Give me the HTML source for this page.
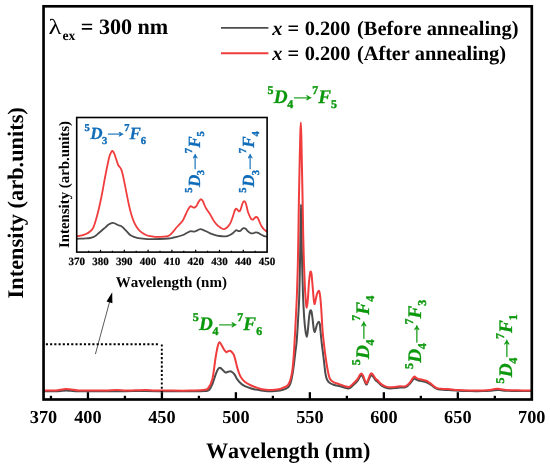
<!DOCTYPE html>
<html lang="en"><head><meta charset="utf-8"><title>PL emission spectra</title>
<style>html,body{margin:0;padding:0;background:#fff}svg{display:block;text-rendering:geometricPrecision}text{font-family:"Liberation Serif","DejaVu Serif",serif;font-weight:bold;fill:#000;font-kerning:none}.i{font-style:italic}.r{font-weight:normal;font-style:normal}.u{font-style:normal}.lb text{fill:inherit;stroke-width:0}.lb text.s{stroke-width:0.4px}.lb text.i{stroke-width:0.25px}.lb text.r{stroke-width:0.3px}</style></head><body>
<svg width="550" height="469" viewBox="0 0 550 469">
<rect width="550" height="469" fill="#fff"/>
<path d="M43.50 391.30 C45.42 391.28 51.92 391.28 55.00 391.20 C58.08 391.12 60.17 390.92 62.00 390.80 C63.83 390.68 64.50 390.50 66.00 390.50 C67.50 390.50 69.00 390.68 71.00 390.80 C73.00 390.92 74.83 391.12 78.00 391.20 C81.17 391.28 85.50 391.28 90.00 391.30 C94.50 391.32 99.17 391.32 105.00 391.30 C110.83 391.28 118.17 391.25 125.00 391.20 C131.83 391.15 138.50 390.98 146.00 391.00 C153.50 391.02 162.67 391.25 170.00 391.30 C177.33 391.35 184.17 391.35 190.00 391.30 C195.83 391.25 201.83 391.22 205.00 391.00 C208.17 390.78 207.77 391.17 209.00 390.00 C210.23 388.83 211.30 386.57 212.40 384.00 C213.50 381.43 214.70 377.02 215.60 374.60 C216.50 372.18 217.08 370.63 217.80 369.50 C218.52 368.37 219.20 367.83 219.90 367.80 C220.60 367.77 221.32 368.72 222.00 369.30 C222.68 369.88 223.37 370.75 224.00 371.30 C224.63 371.85 225.13 372.52 225.80 372.60 C226.47 372.68 227.25 372.03 228.00 371.80 C228.75 371.57 229.63 371.17 230.30 371.20 C230.97 371.23 231.40 371.60 232.00 372.00 C232.60 372.40 233.32 372.90 233.90 373.60 C234.48 374.30 234.97 375.28 235.50 376.20 C236.03 377.12 236.20 377.87 237.10 379.10 C238.00 380.33 239.62 382.42 240.90 383.60 C242.18 384.78 243.08 385.38 244.80 386.20 C246.52 387.02 249.33 387.93 251.20 388.50 C253.07 389.07 254.53 389.30 256.00 389.60 C257.47 389.90 258.50 390.07 260.00 390.30 C261.50 390.53 263.00 390.85 265.00 391.00 C267.00 391.15 269.83 391.23 272.00 391.20 C274.17 391.17 276.33 391.00 278.00 390.80 C279.67 390.60 280.67 390.37 282.00 390.00 C283.33 389.63 284.90 389.13 286.00 388.60 C287.10 388.07 287.87 387.65 288.60 386.80 C289.33 385.95 289.87 384.97 290.40 383.50 C290.93 382.03 291.37 380.08 291.80 378.00 C292.23 375.92 292.60 373.67 293.00 371.00 C293.40 368.33 293.80 365.17 294.20 362.00 C294.60 358.83 295.00 355.33 295.40 352.00 C295.80 348.67 296.23 346.00 296.60 342.00 C296.97 338.00 297.28 333.00 297.60 328.00 C297.92 323.00 298.22 317.50 298.50 312.00 C298.78 306.50 299.05 303.33 299.30 295.00 C299.55 286.67 299.80 272.83 300.00 262.00 C300.20 251.17 300.33 239.58 300.50 230.00 C300.67 220.42 300.83 204.50 301.00 204.50 C301.17 204.50 301.32 220.42 301.50 230.00 C301.68 239.58 301.85 251.17 302.10 262.00 C302.35 272.83 302.65 285.67 303.00 295.00 C303.35 304.33 303.78 312.00 304.20 318.00 C304.62 324.00 305.07 327.88 305.50 331.00 C305.93 334.12 306.42 336.70 306.80 336.70 C307.18 336.70 307.43 334.12 307.80 331.00 C308.17 327.88 308.63 321.25 309.00 318.00 C309.37 314.75 309.72 312.80 310.00 311.50 C310.28 310.20 310.45 310.20 310.70 310.20 C310.95 310.20 311.18 310.03 311.50 311.50 C311.82 312.97 312.25 316.25 312.60 319.00 C312.95 321.75 313.28 325.83 313.60 328.00 C313.92 330.17 314.17 331.75 314.50 332.00 C314.83 332.25 315.18 330.75 315.60 329.50 C316.02 328.25 316.48 325.80 317.00 324.50 C317.52 323.20 318.23 321.78 318.70 321.70 C319.17 321.62 319.50 322.45 319.80 324.00 C320.10 325.55 320.20 328.00 320.50 331.00 C320.80 334.00 321.25 338.83 321.60 342.00 C321.95 345.17 322.27 347.33 322.60 350.00 C322.93 352.67 323.27 355.17 323.60 358.00 C323.93 360.83 324.27 364.25 324.60 367.00 C324.93 369.75 325.20 372.42 325.60 374.50 C326.00 376.58 326.35 378.12 327.00 379.50 C327.65 380.88 328.50 381.97 329.50 382.80 C330.50 383.63 331.75 384.03 333.00 384.50 C334.25 384.97 335.67 385.27 337.00 385.60 C338.33 385.93 339.67 386.15 341.00 386.50 C342.33 386.85 343.83 387.37 345.00 387.70 C346.17 388.03 347.20 388.42 348.00 388.50 C348.80 388.58 349.17 388.53 349.80 388.20 C350.43 387.87 350.55 387.70 351.80 386.50 C353.05 385.30 355.97 382.58 357.30 381.00 C358.63 379.42 359.12 377.95 359.80 377.00 C360.48 376.05 360.87 375.27 361.40 375.30 C361.93 375.33 362.20 375.68 363.00 377.20 C363.80 378.72 365.37 383.68 366.20 384.40 C367.03 385.12 367.33 382.82 368.00 381.50 C368.67 380.18 369.58 377.53 370.20 376.50 C370.82 375.47 371.15 375.18 371.70 375.30 C372.25 375.42 372.82 376.33 373.50 377.20 C374.18 378.07 375.13 379.75 375.80 380.50 C376.47 381.25 376.80 381.07 377.50 381.70 C378.20 382.33 379.18 383.55 380.00 384.30 C380.82 385.05 381.40 385.62 382.40 386.20 C383.40 386.78 384.73 387.43 386.00 387.80 C387.27 388.17 388.33 388.37 390.00 388.40 C391.67 388.43 394.30 388.17 396.00 388.00 C397.70 387.83 398.78 387.48 400.20 387.40 C401.62 387.32 403.37 387.65 404.50 387.50 C405.63 387.35 406.02 387.22 407.00 386.50 C407.98 385.78 409.48 384.23 410.40 383.20 C411.32 382.17 411.82 381.07 412.50 380.30 C413.18 379.53 413.88 378.72 414.50 378.60 C415.12 378.48 415.55 379.28 416.20 379.60 C416.85 379.92 417.43 380.23 418.40 380.50 C419.37 380.77 420.67 380.90 422.00 381.20 C423.33 381.50 425.23 381.90 426.40 382.30 C427.57 382.70 428.03 383.02 429.00 383.60 C429.97 384.18 431.20 385.10 432.20 385.80 C433.20 386.50 434.03 387.23 435.00 387.80 C435.97 388.37 436.67 388.87 438.00 389.20 C439.33 389.53 441.30 389.67 443.00 389.80 C444.70 389.93 445.63 389.83 448.20 390.00 C450.77 390.17 454.77 390.62 458.40 390.80 C462.03 390.98 465.95 391.05 470.00 391.10 C474.05 391.15 479.37 391.15 482.70 391.10 C486.03 391.05 488.12 390.95 490.00 390.80 C491.88 390.65 492.75 390.35 494.00 390.20 C495.25 390.05 496.33 389.90 497.50 389.90 C498.67 389.90 499.58 390.07 501.00 390.20 C502.42 390.33 504.17 390.58 506.00 390.70 C507.83 390.82 509.33 390.85 512.00 390.90 C514.67 390.95 518.75 390.97 522.00 391.00 C525.25 391.03 529.92 391.08 531.50 391.10" fill="none" stroke="#4C4C4C" stroke-width="2.0" stroke-linejoin="round"/>
<path d="M43.50 390.60 C45.42 390.57 51.92 390.57 55.00 390.40 C58.08 390.23 60.17 389.83 62.00 389.60 C63.83 389.37 64.50 389.02 66.00 389.00 C67.50 388.98 69.00 389.27 71.00 389.50 C73.00 389.73 74.83 390.22 78.00 390.40 C81.17 390.58 85.50 390.58 90.00 390.60 C94.50 390.62 100.50 390.60 105.00 390.50 C109.50 390.40 113.67 390.00 117.00 390.00 C120.33 390.00 122.00 390.45 125.00 390.50 C128.00 390.55 131.50 390.38 135.00 390.30 C138.50 390.22 142.67 389.98 146.00 390.00 C149.33 390.02 151.00 390.30 155.00 390.40 C159.00 390.50 164.17 390.57 170.00 390.60 C175.83 390.63 184.50 390.70 190.00 390.60 C195.50 390.50 200.00 390.35 203.00 390.00 C206.00 389.65 206.43 390.33 208.00 388.50 C209.57 386.67 211.13 384.15 212.40 379.00 C213.67 373.85 214.70 363.10 215.60 357.60 C216.50 352.10 217.15 348.57 217.80 346.00 C218.45 343.43 218.88 342.37 219.50 342.20 C220.12 342.03 220.75 343.78 221.50 345.00 C222.25 346.22 223.22 348.32 224.00 349.50 C224.78 350.68 225.53 351.80 226.20 352.10 C226.87 352.40 227.37 351.52 228.00 351.30 C228.63 351.08 229.33 350.63 230.00 350.80 C230.67 350.97 231.35 351.60 232.00 352.30 C232.65 353.00 233.32 353.63 233.90 355.00 C234.48 356.37 234.97 358.50 235.50 360.50 C236.03 362.50 236.52 364.92 237.10 367.00 C237.68 369.08 238.37 371.30 239.00 373.00 C239.63 374.70 239.93 375.75 240.90 377.20 C241.87 378.65 243.08 380.32 244.80 381.70 C246.52 383.08 249.33 384.55 251.20 385.50 C253.07 386.45 254.53 386.87 256.00 387.40 C257.47 387.93 258.67 388.35 260.00 388.70 C261.33 389.05 262.67 389.30 264.00 389.50 C265.33 389.70 266.67 389.82 268.00 389.90 C269.33 389.98 270.50 390.05 272.00 390.00 C273.50 389.95 275.50 389.83 277.00 389.60 C278.50 389.37 279.67 389.03 281.00 388.60 C282.33 388.17 283.87 387.57 285.00 387.00 C286.13 386.43 287.03 386.03 287.80 385.20 C288.57 384.37 289.07 383.28 289.60 382.00 C290.13 380.72 290.57 379.25 291.00 377.50 C291.43 375.75 291.83 374.00 292.20 371.50 C292.57 369.00 292.88 366.08 293.20 362.50 C293.52 358.92 293.72 356.25 294.10 350.00 C294.48 343.75 295.05 333.67 295.50 325.00 C295.95 316.33 296.43 307.17 296.80 298.00 C297.17 288.83 297.45 279.67 297.70 270.00 C297.95 260.33 298.10 251.67 298.30 240.00 C298.50 228.33 298.68 212.50 298.90 200.00 C299.12 187.50 299.37 175.83 299.60 165.00 C299.83 154.17 300.10 142.08 300.30 135.00 C300.50 127.92 300.63 122.50 300.80 122.50 C300.97 122.50 301.12 127.92 301.30 135.00 C301.48 142.08 301.68 154.17 301.90 165.00 C302.12 175.83 302.38 188.33 302.60 200.00 C302.82 211.67 302.98 224.67 303.20 235.00 C303.42 245.33 303.63 253.67 303.90 262.00 C304.17 270.33 304.48 278.50 304.80 285.00 C305.12 291.50 305.47 297.25 305.80 301.00 C306.13 304.75 306.47 307.67 306.80 307.50 C307.13 307.33 307.43 304.25 307.80 300.00 C308.17 295.75 308.63 286.42 309.00 282.00 C309.37 277.58 309.72 275.25 310.00 273.50 C310.28 271.75 310.45 271.42 310.70 271.50 C310.95 271.58 311.18 271.58 311.50 274.00 C311.82 276.42 312.25 282.00 312.60 286.00 C312.95 290.00 313.28 295.00 313.60 298.00 C313.92 301.00 314.17 303.67 314.50 304.00 C314.83 304.33 315.18 301.67 315.60 300.00 C316.02 298.33 316.45 295.55 317.00 294.00 C317.55 292.45 318.40 290.53 318.90 290.70 C319.40 290.87 319.62 292.12 320.00 295.00 C320.38 297.88 320.77 302.00 321.20 308.00 C321.63 314.00 322.10 324.67 322.60 331.00 C323.10 337.33 323.70 341.67 324.20 346.00 C324.70 350.33 325.10 353.42 325.60 357.00 C326.10 360.58 326.68 364.52 327.20 367.50 C327.72 370.48 328.23 373.02 328.70 374.90 C329.17 376.78 329.53 377.82 330.00 378.80 C330.47 379.78 330.83 380.22 331.50 380.80 C332.17 381.38 332.92 381.80 334.00 382.30 C335.08 382.80 336.83 383.38 338.00 383.80 C339.17 384.22 339.83 384.40 341.00 384.80 C342.17 385.20 343.83 385.82 345.00 386.20 C346.17 386.58 347.20 387.03 348.00 387.10 C348.80 387.17 349.17 386.97 349.80 386.60 C350.43 386.23 350.55 386.12 351.80 384.90 C353.05 383.68 355.97 380.95 357.30 379.30 C358.63 377.65 359.12 375.98 359.80 375.00 C360.48 374.02 360.87 373.32 361.40 373.40 C361.93 373.48 362.20 373.87 363.00 375.50 C363.80 377.13 365.37 382.45 366.20 383.20 C367.03 383.95 367.33 381.43 368.00 380.00 C368.67 378.57 369.58 375.70 370.20 374.60 C370.82 373.50 371.15 373.25 371.70 373.40 C372.25 373.55 372.82 374.57 373.50 375.50 C374.18 376.43 375.13 378.22 375.80 379.00 C376.47 379.78 376.80 379.53 377.50 380.20 C378.20 380.87 379.18 382.22 380.00 383.00 C380.82 383.78 381.40 384.30 382.40 384.90 C383.40 385.50 384.73 386.20 386.00 386.60 C387.27 387.00 388.33 387.27 390.00 387.30 C391.67 387.33 394.30 386.98 396.00 386.80 C397.70 386.62 398.78 386.25 400.20 386.20 C401.62 386.15 403.37 386.65 404.50 386.50 C405.63 386.35 406.02 386.08 407.00 385.30 C407.98 384.52 409.48 382.93 410.40 381.80 C411.32 380.67 411.82 379.37 412.50 378.50 C413.18 377.63 413.88 376.72 414.50 376.60 C415.12 376.48 415.55 377.42 416.20 377.80 C416.85 378.18 417.43 378.60 418.40 378.90 C419.37 379.20 420.67 379.28 422.00 379.60 C423.33 379.92 425.23 380.35 426.40 380.80 C427.57 381.25 428.03 381.65 429.00 382.30 C429.97 382.95 431.20 383.92 432.20 384.70 C433.20 385.48 434.03 386.38 435.00 387.00 C435.97 387.62 436.67 388.08 438.00 388.40 C439.33 388.72 441.30 388.78 443.00 388.90 C444.70 389.02 445.63 388.90 448.20 389.10 C450.77 389.30 454.77 389.87 458.40 390.10 C462.03 390.33 465.95 390.43 470.00 390.50 C474.05 390.57 479.37 390.58 482.70 390.50 C486.03 390.42 488.12 390.22 490.00 390.00 C491.88 389.78 492.75 389.40 494.00 389.20 C495.25 389.00 496.33 388.78 497.50 388.80 C498.67 388.82 499.58 389.10 501.00 389.30 C502.42 389.50 504.17 389.85 506.00 390.00 C507.83 390.15 509.33 390.13 512.00 390.20 C514.67 390.27 518.75 390.35 522.00 390.40 C525.25 390.45 529.92 390.48 531.50 390.50" fill="none" stroke="#F03C3C" stroke-width="2.0" stroke-linejoin="round"/>
<path d="M45.85 344.3H158.5" fill="none" stroke="#000" stroke-width="1.9" stroke-dasharray="2.1 2.13"/>
<path d="M161.8 344.4V392" fill="none" stroke="#000" stroke-width="1.9" stroke-dasharray="2.1 2.13"/>
<path d="M95.4 354.1L109.6 301.8" stroke="#000" stroke-width="0.65" fill="none"/>
<path d="M112.2 292.2L112.4 303.15L106.5 301.55Z" fill="#000"/>
<path d="M87.94 399.5V392.2" stroke="#000" stroke-width="2.3"/>
<path d="M161.91 399.5V392.2" stroke="#000" stroke-width="2.3"/>
<path d="M235.89 399.5V392.2" stroke="#000" stroke-width="2.3"/>
<path d="M309.87 399.5V392.2" stroke="#000" stroke-width="2.3"/>
<path d="M383.85 399.5V392.2" stroke="#000" stroke-width="2.3"/>
<path d="M457.82 399.5V392.2" stroke="#000" stroke-width="2.3"/>
<path d="M50.95 399.5V395.8" stroke="#000" stroke-width="2.3"/>
<path d="M124.92 399.5V395.8" stroke="#000" stroke-width="2.3"/>
<path d="M198.90 399.5V395.8" stroke="#000" stroke-width="2.3"/>
<path d="M272.88 399.5V395.8" stroke="#000" stroke-width="2.3"/>
<path d="M346.86 399.5V395.8" stroke="#000" stroke-width="2.3"/>
<path d="M420.83 399.5V395.8" stroke="#000" stroke-width="2.3"/>
<path d="M494.81 399.5V395.8" stroke="#000" stroke-width="2.3"/>
<rect x="43.55" y="6.30" width="488.25" height="393.20" fill="none" stroke="#000" stroke-width="2.65"/>
<text x="43.55" y="422.6" font-size="18.3" text-anchor="middle">370</text>
<text x="87.94" y="422.6" font-size="18.3" text-anchor="middle">400</text>
<text x="161.91" y="422.6" font-size="18.3" text-anchor="middle">450</text>
<text x="235.89" y="422.6" font-size="18.3" text-anchor="middle">500</text>
<text x="309.87" y="422.6" font-size="18.3" text-anchor="middle">550</text>
<text x="383.85" y="422.6" font-size="18.3" text-anchor="middle">600</text>
<text x="457.82" y="422.6" font-size="18.3" text-anchor="middle">650</text>
<text x="531.80" y="422.6" font-size="18.3" text-anchor="middle">700</text>
<text x="288.2" y="457.5" font-size="22.2" text-anchor="middle">Wavelength (nm)</text>
<text transform="translate(22.6 202.8) rotate(-90)" font-size="22.35" text-anchor="middle">Intensity (arb.units)</text>
<text transform="translate(48.5 34.2) scale(1.24 1)" font-size="21.5" class="r">λ</text>
<text x="62.4" y="40.1" font-size="13.6">ex</text>
<text x="80.8" y="34.2" font-size="22.1">= 300 nm</text>
<path d="M221 27.9H268.4" stroke="#4C4C4C" stroke-width="1.9"/>
<path d="M221 53.3H268.4" stroke="#F03C3C" stroke-width="1.9"/>
<text x="272.2" y="34.9" font-size="20.4"><tspan class="i">x</tspan> = <tspan dx="0.4">0.200</tspan> <tspan dx="1.4">(Before annealing)</tspan></text>
<text x="272.2" y="59.7" font-size="20.4"><tspan class="i">x</tspan> = <tspan dx="0.4">0.200</tspan> <tspan dx="1.4" letter-spacing="-0.07">(After annealing)</tspan></text>
<g transform="translate(267.50 102.90)" style="fill:#0C980C;stroke:#0C980C" class="lb"><text x="0.00" y="-8.68" font-size="11.90" class="s">5</text><text x="6.35" y="0.00" font-size="19.20" class="i">D</text><text x="19.82" y="5.09" font-size="11.90" class="s">4</text><text transform="translate(20.77 -1.82) scale(1.506 1)" font-size="19.20" class="r">→</text><text x="44.68" y="-8.68" font-size="11.90" class="s">7</text><text x="50.63" y="0.00" font-size="19.20" class="i">F</text><text x="63.44" y="5.09" font-size="11.90" class="s">5</text></g>
<g transform="translate(192.70 330.00)" style="fill:#0C980C;stroke:#0C980C" class="lb"><text x="0.00" y="-8.68" font-size="11.90" class="s">5</text><text x="6.35" y="0.00" font-size="19.20" class="i">D</text><text x="19.82" y="5.09" font-size="11.90" class="s">4</text><text transform="translate(20.77 -1.82) scale(1.506 1)" font-size="19.20" class="r">→</text><text x="44.68" y="-8.68" font-size="11.90" class="s">7</text><text x="50.63" y="0.00" font-size="19.20" class="i">F</text><text x="63.44" y="5.09" font-size="11.90" class="s">6</text></g>
<g transform="translate(368.80 365.30) rotate(-90)" style="fill:#0C980C;stroke:#0C980C" class="lb"><text x="0.00" y="-8.68" font-size="11.90" class="s">5</text><text x="6.35" y="0.00" font-size="19.20" class="i">D</text><text x="19.82" y="5.09" font-size="11.90" class="s">4</text><text transform="translate(20.77 -1.82) scale(1.506 1)" font-size="19.20" class="r">→</text><text x="44.68" y="-8.68" font-size="11.90" class="s">7</text><text x="50.63" y="0.00" font-size="19.20" class="i">F</text><text x="63.44" y="5.09" font-size="11.90" class="s">4</text></g>
<g transform="translate(421.40 369.10) rotate(-90)" style="fill:#0C980C;stroke:#0C980C" class="lb"><text x="0.00" y="-8.68" font-size="11.90" class="s">5</text><text x="6.35" y="0.00" font-size="19.20" class="i">D</text><text x="19.82" y="5.09" font-size="11.90" class="s">4</text><text transform="translate(20.77 -1.82) scale(1.506 1)" font-size="19.20" class="r">→</text><text x="44.68" y="-8.68" font-size="11.90" class="s">7</text><text x="50.63" y="0.00" font-size="19.20" class="i">F</text><text x="63.44" y="5.09" font-size="11.90" class="s">3</text></g>
<g transform="translate(512.20 383.60) rotate(-90)" style="fill:#0C980C;stroke:#0C980C" class="lb"><text x="0.00" y="-8.68" font-size="11.90" class="s">5</text><text x="6.35" y="0.00" font-size="19.20" class="i">D</text><text x="19.82" y="5.09" font-size="11.90" class="s">4</text><text transform="translate(20.77 -1.82) scale(1.506 1)" font-size="19.20" class="r">→</text><text x="44.68" y="-8.68" font-size="11.90" class="s">7</text><text x="50.63" y="0.00" font-size="19.20" class="i">F</text><text x="63.44" y="5.09" font-size="11.90" class="s">1</text></g>
<rect x="76.70" y="117.50" width="190.40" height="134.60" fill="#fff" stroke="none"/>
<clipPath id="ic"><rect x="76.70" y="117.50" width="190.40" height="134.60"/></clipPath>
<g clip-path="url(#ic)">
<path d="M77.00 238.80 C77.83 238.77 80.50 238.67 82.00 238.60 C83.50 238.53 84.67 238.50 86.00 238.40 C87.33 238.30 88.83 238.20 90.00 238.00 C91.17 237.80 92.00 237.62 93.00 237.20 C94.00 236.78 95.03 236.20 96.00 235.50 C96.97 234.80 97.80 233.88 98.80 233.00 C99.80 232.12 100.95 231.10 102.00 230.20 C103.05 229.30 103.93 228.58 105.10 227.60 C106.27 226.62 107.77 225.10 109.00 224.30 C110.23 223.50 111.50 222.93 112.50 222.80 C113.50 222.67 114.10 223.13 115.00 223.50 C115.90 223.87 116.88 224.58 117.90 225.00 C118.92 225.42 120.32 225.63 121.10 226.00 C121.88 226.37 122.07 226.73 122.60 227.20 C123.13 227.67 123.22 227.67 124.30 228.80 C125.38 229.93 127.90 232.85 129.10 234.00 C130.30 235.15 130.70 235.23 131.50 235.70 C132.30 236.17 132.98 236.45 133.90 236.80 C134.82 237.15 135.93 237.53 137.00 237.80 C138.07 238.07 138.97 238.22 140.30 238.40 C141.63 238.58 143.40 238.78 145.00 238.90 C146.60 239.02 147.48 239.08 149.90 239.10 C152.32 239.12 156.42 239.10 159.50 239.00 C162.58 238.90 166.05 238.75 168.40 238.50 C170.75 238.25 172.25 237.78 173.60 237.50 C174.95 237.22 175.45 237.05 176.50 236.80 C177.55 236.55 178.82 236.30 179.90 236.00 C180.98 235.70 182.15 235.33 183.00 235.00 C183.85 234.67 184.30 234.38 185.00 234.00 C185.70 233.62 186.53 233.07 187.20 232.70 C187.87 232.33 188.42 232.05 189.00 231.80 C189.58 231.55 190.20 231.27 190.70 231.20 C191.20 231.13 191.53 231.33 192.00 231.40 C192.47 231.47 193.00 231.60 193.50 231.60 C194.00 231.60 194.48 231.53 195.00 231.40 C195.52 231.27 196.02 231.07 196.60 230.80 C197.18 230.53 197.87 230.08 198.50 229.80 C199.13 229.52 199.67 229.10 200.40 229.10 C201.13 229.10 201.97 229.45 202.90 229.80 C203.83 230.15 204.78 230.62 206.00 231.20 C207.22 231.78 208.80 232.70 210.20 233.30 C211.60 233.90 212.83 234.35 214.40 234.80 C215.97 235.25 218.03 235.73 219.60 236.00 C221.17 236.27 222.40 236.43 223.80 236.40 C225.20 236.37 226.78 236.13 228.00 235.80 C229.22 235.47 230.32 234.83 231.10 234.40 C231.88 233.97 232.18 233.62 232.70 233.20 C233.22 232.78 233.60 232.40 234.20 231.90 C234.80 231.40 235.75 230.42 236.30 230.20 C236.85 229.98 237.05 230.43 237.50 230.60 C237.95 230.77 238.55 231.15 239.00 231.20 C239.45 231.25 239.85 231.07 240.20 230.90 C240.55 230.73 240.75 230.52 241.10 230.20 C241.45 229.88 241.88 229.35 242.30 229.00 C242.72 228.65 243.03 228.15 243.60 228.10 C244.17 228.05 245.00 228.18 245.70 228.70 C246.40 229.22 247.18 230.57 247.80 231.20 C248.42 231.83 248.87 232.15 249.40 232.50 C249.93 232.85 250.40 233.17 251.00 233.30 C251.60 233.43 252.40 233.40 253.00 233.30 C253.60 233.20 254.07 232.87 254.60 232.70 C255.13 232.53 255.58 232.27 256.20 232.30 C256.82 232.33 257.43 232.48 258.30 232.90 C259.17 233.32 260.53 234.32 261.40 234.80 C262.27 235.28 262.77 235.52 263.50 235.80 C264.23 236.08 265.18 236.32 265.80 236.50 C266.42 236.68 266.97 236.83 267.20 236.90" fill="none" stroke="#4C4C4C" stroke-width="1.8" stroke-linejoin="round"/>
<path d="M77.00 236.20 C77.83 236.05 80.50 235.67 82.00 235.30 C83.50 234.93 84.67 234.63 86.00 234.00 C87.33 233.37 88.83 232.47 90.00 231.50 C91.17 230.53 92.00 230.20 93.00 228.20 C94.00 226.20 95.03 222.70 96.00 219.50 C96.97 216.30 97.80 213.25 98.80 209.00 C99.80 204.75 100.95 199.33 102.00 194.00 C103.05 188.67 103.93 183.00 105.10 177.00 C106.27 171.00 108.05 162.00 109.00 158.00 C109.95 154.00 110.27 154.18 110.80 153.00 C111.33 151.82 111.77 151.07 112.20 150.90 C112.63 150.73 112.98 151.37 113.40 152.00 C113.82 152.63 113.95 152.65 114.70 154.70 C115.45 156.75 117.10 162.28 117.90 164.30 C118.70 166.32 118.97 165.98 119.50 166.80 C120.03 167.62 120.58 168.00 121.10 169.20 C121.62 170.40 122.07 171.88 122.60 174.00 C123.13 176.12 123.22 176.60 124.30 181.90 C125.38 187.20 127.90 200.28 129.10 205.80 C130.30 211.32 130.70 212.33 131.50 215.00 C132.30 217.67 132.98 219.72 133.90 221.80 C134.82 223.88 135.93 225.90 137.00 227.50 C138.07 229.10 138.97 230.23 140.30 231.40 C141.63 232.57 143.40 233.70 145.00 234.50 C146.60 235.30 148.23 235.82 149.90 236.20 C151.57 236.58 153.40 236.70 155.00 236.80 C156.60 236.90 158.00 236.83 159.50 236.80 C161.00 236.77 162.52 236.77 164.00 236.60 C165.48 236.43 167.23 236.23 168.40 235.80 C169.57 235.37 170.13 234.77 171.00 234.00 C171.87 233.23 172.68 232.28 173.60 231.20 C174.52 230.12 175.45 228.72 176.50 227.50 C177.55 226.28 178.82 225.12 179.90 223.90 C180.98 222.68 182.15 221.52 183.00 220.20 C183.85 218.88 184.30 217.50 185.00 216.00 C185.70 214.50 186.53 212.53 187.20 211.20 C187.87 209.87 188.42 208.83 189.00 208.00 C189.58 207.17 190.20 206.40 190.70 206.20 C191.20 206.00 191.53 206.57 192.00 206.80 C192.47 207.03 193.00 207.50 193.50 207.60 C194.00 207.70 194.48 207.70 195.00 207.40 C195.52 207.10 196.02 206.70 196.60 205.80 C197.18 204.90 197.87 203.07 198.50 202.00 C199.13 200.93 199.85 199.78 200.40 199.40 C200.95 199.02 201.38 199.40 201.80 199.70 C202.22 200.00 202.45 200.32 202.90 201.20 C203.35 202.08 203.98 203.83 204.50 205.00 C205.02 206.17 205.42 207.17 206.00 208.20 C206.58 209.23 207.30 210.15 208.00 211.20 C208.70 212.25 209.48 213.32 210.20 214.50 C210.92 215.68 211.60 217.08 212.30 218.30 C213.00 219.52 213.62 220.72 214.40 221.80 C215.18 222.88 216.13 223.93 217.00 224.80 C217.87 225.67 218.80 226.38 219.60 227.00 C220.40 227.62 221.10 228.15 221.80 228.50 C222.50 228.85 223.10 229.13 223.80 229.10 C224.50 229.07 225.30 228.75 226.00 228.30 C226.70 227.85 227.38 227.07 228.00 226.40 C228.62 225.73 229.18 225.12 229.70 224.30 C230.22 223.48 230.60 222.72 231.10 221.50 C231.60 220.28 232.18 218.55 232.70 217.00 C233.22 215.45 233.77 213.45 234.20 212.20 C234.63 210.95 234.95 210.10 235.30 209.50 C235.65 208.90 235.93 208.55 236.30 208.60 C236.67 208.65 237.05 209.35 237.50 209.80 C237.95 210.25 238.55 211.18 239.00 211.30 C239.45 211.42 239.85 211.05 240.20 210.50 C240.55 209.95 240.75 209.08 241.10 208.00 C241.45 206.92 241.88 205.08 242.30 204.00 C242.72 202.92 243.20 201.92 243.60 201.50 C244.00 201.08 244.35 201.25 244.70 201.50 C245.05 201.75 245.35 202.08 245.70 203.00 C246.05 203.92 246.45 205.60 246.80 207.00 C247.15 208.40 247.37 209.98 247.80 211.40 C248.23 212.82 248.87 214.28 249.40 215.50 C249.93 216.72 250.57 218.03 251.00 218.70 C251.43 219.37 251.67 219.35 252.00 219.50 C252.33 219.65 252.57 219.85 253.00 219.60 C253.43 219.35 254.07 218.43 254.60 218.00 C255.13 217.57 255.75 217.08 256.20 217.00 C256.65 216.92 256.95 217.18 257.30 217.50 C257.65 217.82 257.88 218.07 258.30 218.90 C258.72 219.73 259.28 221.32 259.80 222.50 C260.32 223.68 260.78 224.95 261.40 226.00 C262.02 227.05 262.77 228.00 263.50 228.80 C264.23 229.60 265.18 230.30 265.80 230.80 C266.42 231.30 266.97 231.63 267.20 231.80" fill="none" stroke="#F03C3C" stroke-width="1.8" stroke-linejoin="round"/>
</g>
<path d="M100.50 252.1V249.8" stroke="#000" stroke-width="1.2"/>
<path d="M124.30 252.1V249.8" stroke="#000" stroke-width="1.2"/>
<path d="M148.10 252.1V249.8" stroke="#000" stroke-width="1.2"/>
<path d="M171.90 252.1V249.8" stroke="#000" stroke-width="1.2"/>
<path d="M195.70 252.1V249.8" stroke="#000" stroke-width="1.2"/>
<path d="M219.50 252.1V249.8" stroke="#000" stroke-width="1.2"/>
<path d="M243.30 252.1V249.8" stroke="#000" stroke-width="1.2"/>
<path d="M88.60 252.1V250.7" stroke="#000" stroke-width="1.2"/>
<path d="M112.40 252.1V250.7" stroke="#000" stroke-width="1.2"/>
<path d="M136.20 252.1V250.7" stroke="#000" stroke-width="1.2"/>
<path d="M160.00 252.1V250.7" stroke="#000" stroke-width="1.2"/>
<path d="M183.80 252.1V250.7" stroke="#000" stroke-width="1.2"/>
<path d="M207.60 252.1V250.7" stroke="#000" stroke-width="1.2"/>
<path d="M231.40 252.1V250.7" stroke="#000" stroke-width="1.2"/>
<path d="M255.20 252.1V250.7" stroke="#000" stroke-width="1.2"/>
<rect x="76.70" y="117.50" width="190.40" height="134.60" fill="none" stroke="#000" stroke-width="1.6"/>
<text x="76.70" y="264.6" font-size="11" text-anchor="middle" style="stroke:#000;stroke-width:0.2px">370</text>
<text x="100.50" y="264.6" font-size="11" text-anchor="middle" style="stroke:#000;stroke-width:0.2px">380</text>
<text x="124.30" y="264.6" font-size="11" text-anchor="middle" style="stroke:#000;stroke-width:0.2px">390</text>
<text x="148.10" y="264.6" font-size="11" text-anchor="middle" style="stroke:#000;stroke-width:0.2px">400</text>
<text x="171.90" y="264.6" font-size="11" text-anchor="middle" style="stroke:#000;stroke-width:0.2px">410</text>
<text x="195.70" y="264.6" font-size="11" text-anchor="middle" style="stroke:#000;stroke-width:0.2px">420</text>
<text x="219.50" y="264.6" font-size="11" text-anchor="middle" style="stroke:#000;stroke-width:0.2px">430</text>
<text x="243.30" y="264.6" font-size="11" text-anchor="middle" style="stroke:#000;stroke-width:0.2px">440</text>
<text x="267.10" y="264.6" font-size="11" text-anchor="middle" style="stroke:#000;stroke-width:0.2px">450</text>
<text x="171.3" y="286.5" font-size="15" text-anchor="middle">Wavelength (nm)</text>
<text transform="translate(69.1 184.5) rotate(-90)" font-size="14.85" text-anchor="middle">Intensity (arb.units)</text>
<g transform="translate(84.50 139.00)" style="fill:#0F6CB8;stroke:#0F6CB8" class="lb"><text x="0.00" y="-7.71" font-size="10.57" class="s">5</text><text x="5.69" y="0.00" font-size="17.05" class="i">D</text><text x="17.60" y="4.52" font-size="10.57" class="s">3</text><text transform="translate(18.61 -1.62) scale(1.486 1)" font-size="17.05" class="r">→</text><text x="39.68" y="-7.71" font-size="10.57" class="s">7</text><text x="44.96" y="0.00" font-size="17.05" class="i">F</text><text x="56.34" y="4.52" font-size="10.57" class="s">6</text></g>
<g transform="translate(199.90 192.80) rotate(-90)" style="fill:#0F6CB8;stroke:#0F6CB8" class="lb"><text x="0.00" y="-7.71" font-size="10.57" class="s">5</text><text x="5.69" y="0.00" font-size="17.05" class="i">D</text><text x="17.60" y="4.52" font-size="10.57" class="s">3</text><text transform="translate(18.61 -1.62) scale(1.486 1)" font-size="17.05" class="r">→</text><text x="39.68" y="-7.71" font-size="10.57" class="s">7</text><text x="44.96" y="0.00" font-size="17.05" class="i">F</text><text x="56.34" y="4.52" font-size="10.57" class="s">5</text></g>
<g transform="translate(254.20 192.80) rotate(-90)" style="fill:#0F6CB8;stroke:#0F6CB8" class="lb"><text x="0.00" y="-7.71" font-size="10.57" class="s">5</text><text x="5.69" y="0.00" font-size="17.05" class="i">D</text><text x="17.60" y="4.52" font-size="10.57" class="s">3</text><text transform="translate(18.61 -1.62) scale(1.486 1)" font-size="17.05" class="r">→</text><text x="39.68" y="-7.71" font-size="10.57" class="s">7</text><text x="44.96" y="0.00" font-size="17.05" class="i">F</text><text x="56.34" y="4.52" font-size="10.57" class="s">4</text></g>
</svg></body></html>
